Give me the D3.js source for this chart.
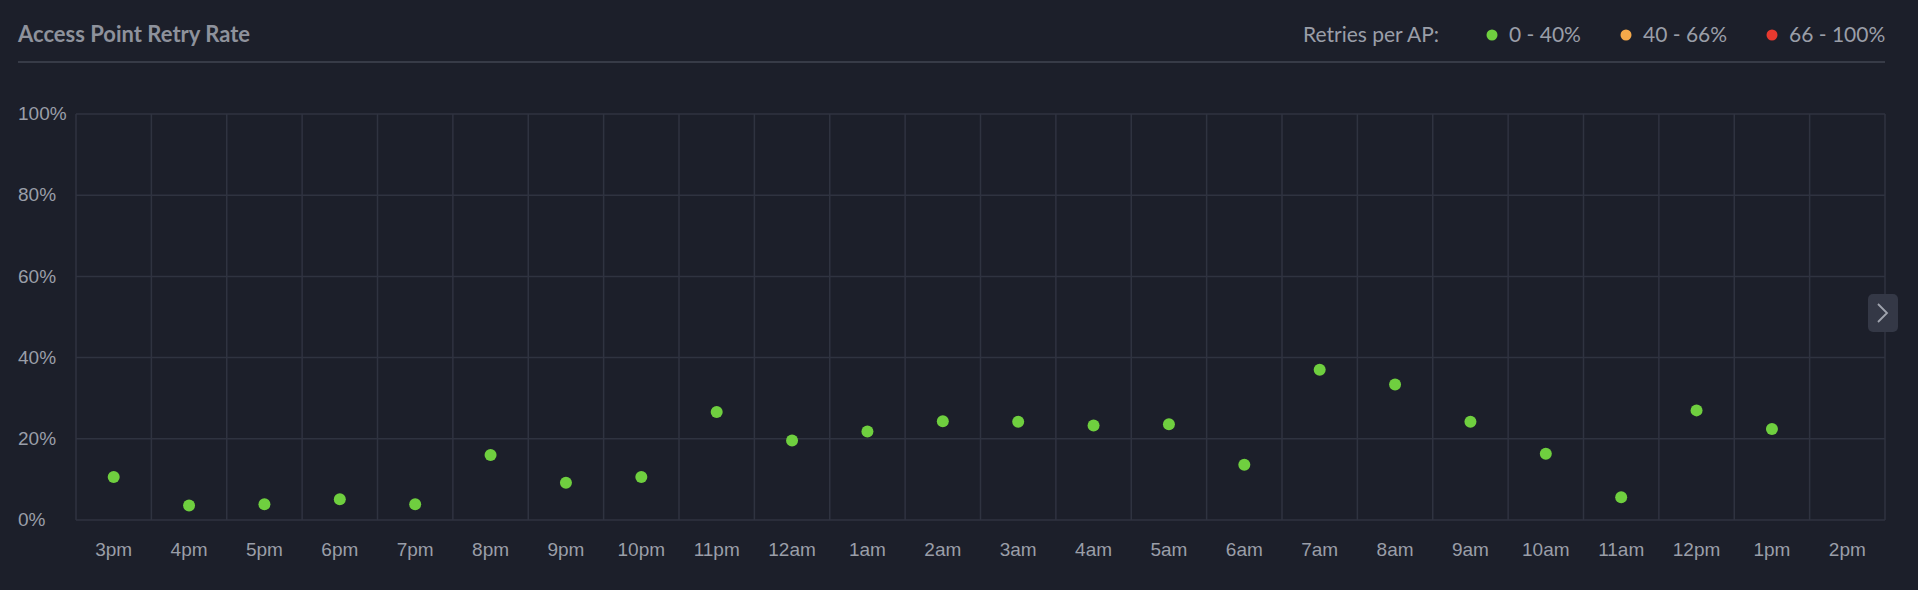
<!DOCTYPE html>
<html><head><meta charset="utf-8">
<script src="https://cdn.jsdelivr.net/npm/d3@7"></script>
<style>html,body{margin:0;padding:0;background:#1c1f2a;}svg{display:block;}</style>
</head><body>
<svg id="c" width="1918" height="590"></svg>
<script>
const hours = ["3pm","4pm","5pm","6pm","7pm","8pm","9pm","10pm","11pm","12am","1am","2am","3am","4am","5am","6am","7am","8am","9am","10am","11am","12pm","1pm","2pm"];
const retryRate = [10.6,3.6,3.9,5.1,3.9,16,9.2,10.6,26.6,19.6,21.8,24.3,24.2,23.3,23.6,13.6,37,33.4,24.2,16.3,5.6,27,22.4,null];
const yTicks = [0,20,40,60,80,100];
const legendLabels = ["0 - 40%","40 - 66%","66 - 100%"];
const legendColors = ["#6fcf3f","#f5a94a","#e6392f"];

const svg = d3.select("#c");
const L=76,R=1885,T=114,B=520;
const x = d3.scaleBand().domain(hours).range([L,R]);
const y = d3.scaleLinear().domain([0,100]).range([B,T]);
const grid="#2f3340", txt="#9a9ea8", font="Lato, 'Open Sans', sans-serif", afont="'Liberation Sans', Arial, sans-serif";

svg.append("text").attr("x",18).attr("y",42).attr("fill","#8e929c").attr("font-family",font).attr("font-weight","bold").attr("font-size",22).text("Access Point Retry Rate");
svg.append("line").attr("x1",18).attr("x2",R).attr("y1",62).attr("y2",62).attr("stroke","#373b47").attr("stroke-width",2);

// legend
const lg = svg.append("g").attr("font-family",font).attr("font-size",21).attr("fill",txt);
lg.append("text").attr("x",1303).attr("y",42).text("Retries per AP:");
const lx=[1492,1626,1772];
legendLabels.forEach((t,i)=>{
  lg.append("circle").attr("cx",lx[i]).attr("cy",35).attr("r",5.5).attr("fill",legendColors[i]);
  lg.append("text").attr("x",lx[i]+17).attr("y",42).text(t);
});

// grid
svg.append("g").selectAll("line").data(yTicks).join("line")
  .attr("x1",L).attr("x2",R).attr("y1",d=>y(d)).attr("y2",d=>y(d)).attr("stroke",grid).attr("stroke-width",1.5);
svg.append("g").selectAll("line").data(hours.concat(["_end"])).join("line")
  .attr("x1",(d,i)=>L+i*x.bandwidth()).attr("x2",(d,i)=>L+i*x.bandwidth())
  .attr("y1",T).attr("y2",B).attr("stroke",grid).attr("stroke-width",1.5);

// y axis labels
const ya = svg.append("g").attr("transform",`translate(18,0)`).call(d3.axisRight(y).tickValues(yTicks).tickFormat(d=>d+"%").tickSize(0));
ya.select(".domain").remove();
ya.selectAll("text").attr("fill",txt).attr("font-family",afont).attr("font-size",19).attr("x",0).attr("dy","0.3em");

// x axis
const xa = svg.append("g").attr("transform",`translate(0,${B})`).call(d3.axisBottom(x).tickSize(0));
xa.select(".domain").remove();
xa.selectAll("text").attr("fill",txt).attr("font-family",afont).attr("font-size",19).attr("dy","1.75em");

// points
svg.append("g").selectAll("circle").data(hours.map((h,i)=>({h,v:retryRate[i]})).filter(d=>d.v!=null)).join("circle")
  .attr("cx",d=>x(d.h)+x.bandwidth()/2).attr("cy",d=>y(d.v)).attr("r",6)
  .attr("fill",d=>d.v<40?legendColors[0]:d.v<66?legendColors[1]:legendColors[2]);

// nav button
svg.append("rect").attr("x",1868).attr("y",294).attr("width",30).attr("height",38).attr("rx",5).attr("fill","#343846");
svg.append("path").attr("d","M1878,304 L1887,313 L1878,322").attr("fill","none").attr("stroke","#a0a4ae").attr("stroke-width",1.8);
</script>
</body></html>
